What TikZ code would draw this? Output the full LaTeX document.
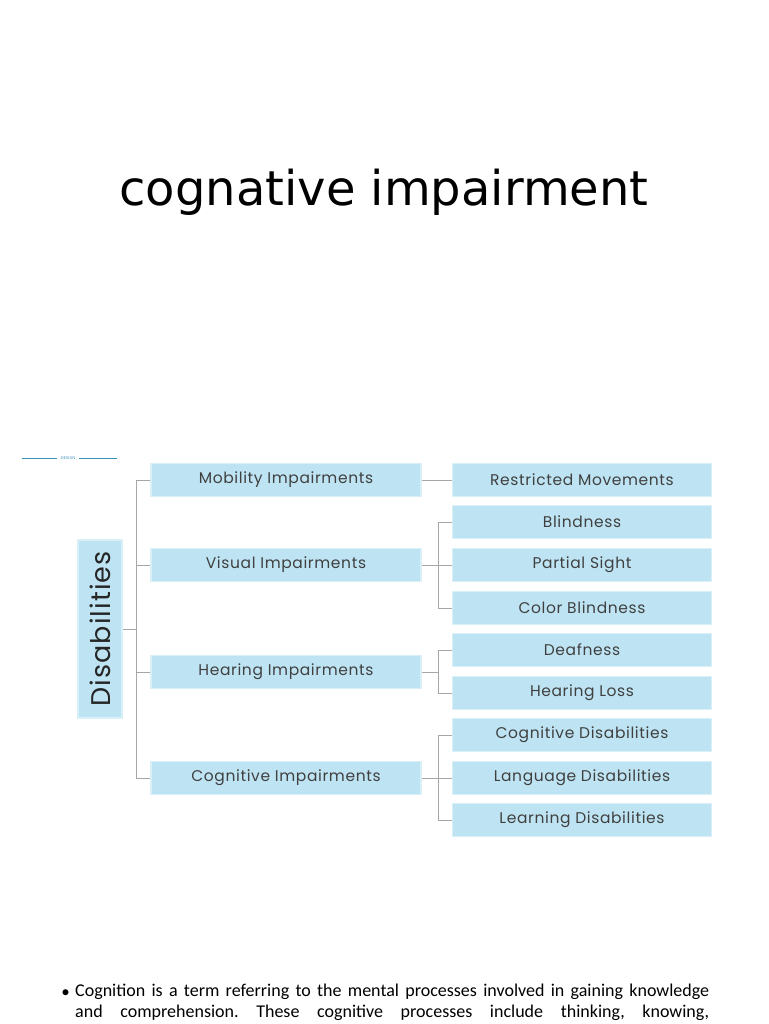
\documentclass[tikz,border=0pt]{standalone}
\usepackage{fontspec}
\setmainfont{DejaVu Sans}
\newfontfamily\boxfont{Poppins}[LetterSpace=4]
\newfontfamily\bodyfont{Carlito}
\definecolor{boxfill}{RGB}{190,228,243}
\definecolor{boxedge}{RGB}{218,240,249}
\begin{document}
\begin{tikzpicture}[x=1pt,y=-1pt,
  box/.style={draw=boxedge,line width=1.5pt,fill=boxfill,minimum height=33pt,inner sep=0pt,font=\boxfont\fontsize{15.5}{17}\selectfont,text=black!75},
  mid/.style={box,minimum width=270pt},
  leaf/.style={box,minimum width=259pt},
  conn/.style={draw=black!35,line width=0.8pt}]
\useasboundingbox (0,0) rectangle (768,1024);
\fill[white] (0,0) rectangle (768,1024);
\node[font=\fontsize{48}{52}\selectfont] (title) at (384,192) {cognative impairment};
% logo fragment
\node[font=\sffamily\fontsize{4}{5}\selectfont,text=cyan!70!black] (logo) at (68,458) {DESIGN};
\draw[cyan!70!black,line width=0.4pt] (22,458) -- (logo.west) (logo.east) -- (117,458);
\node[box,minimum width=44pt,minimum height=178pt] (dis) at (100,629) {};
\node[rotate=90,font=\boxfont\fontsize{27}{30}\selectfont,text=black!85] (dist) at (100,629) {Disabilities};
\node[mid] (m1) at (286,480) {Mobility Impairments};
\node[mid] (m2) at (286,565) {Visual Impairments};
\node[mid] (m3) at (286,672) {Hearing Impairments};
\node[mid] (m4) at (286,778) {Cognitive Impairments};
\node[leaf] (l1) at (582,480) {Restricted Movements};
\node[leaf] (l2) at (582,522) {Blindness};
\node[leaf] (l3) at (582,565) {Partial Sight};
\node[leaf] (l4) at (582,608) {Color Blindness};
\node[leaf] (l5) at (582,650) {Deafness};
\node[leaf] (l6) at (582,693) {Hearing Loss};
\node[leaf] (l7) at (582,735) {Cognitive Disabilities};
\node[leaf] (l8) at (582,778) {Language Disabilities};
\node[leaf] (l9) at (582,820) {Learning Disabilities};
\coordinate (t) at (136,629);
\draw[conn] (dis.east) -- (t);
\draw[conn] (m1.west) -| (m4.west -| t) -- (m4.west);
\draw[conn] (m2.west) -- (m2.west -| t) (m3.west) -- (m3.west -| t);
\draw[conn] (m1.east) -- (l1.west);
\coordinate (b) at (438,565);
\draw[conn] (m2.east) -- (l3.west);
\draw[conn] (l2.west) -| (l4.west -| b) -- (l4.west);
\draw[conn] (m3.east) -- (m3.east -| b);
\draw[conn] (l5.west) -| (l6.west -| b) -- (l6.west);
\draw[conn] (m4.east) -- (l8.west);
\draw[conn] (l7.west) -| (l9.west -| b) -- (l9.west);
\node[anchor=north west,inner sep=0pt,text width=634pt,align=justify,font=\bodyfont\frenchspacing\fontsize{18}{20.5}\selectfont] (body) at (75,984)
 {Cognition is a term referring to the mental processes involved in gaining knowledge\linebreak and comprehension. These cognitive processes include thinking, knowing,\linebreak\mbox{}};
\node[font=\bodyfont\fontsize{17}{20}\selectfont,anchor=east,inner sep=0pt] (bul) at (70,994) {•};
\end{tikzpicture}
\end{document}
